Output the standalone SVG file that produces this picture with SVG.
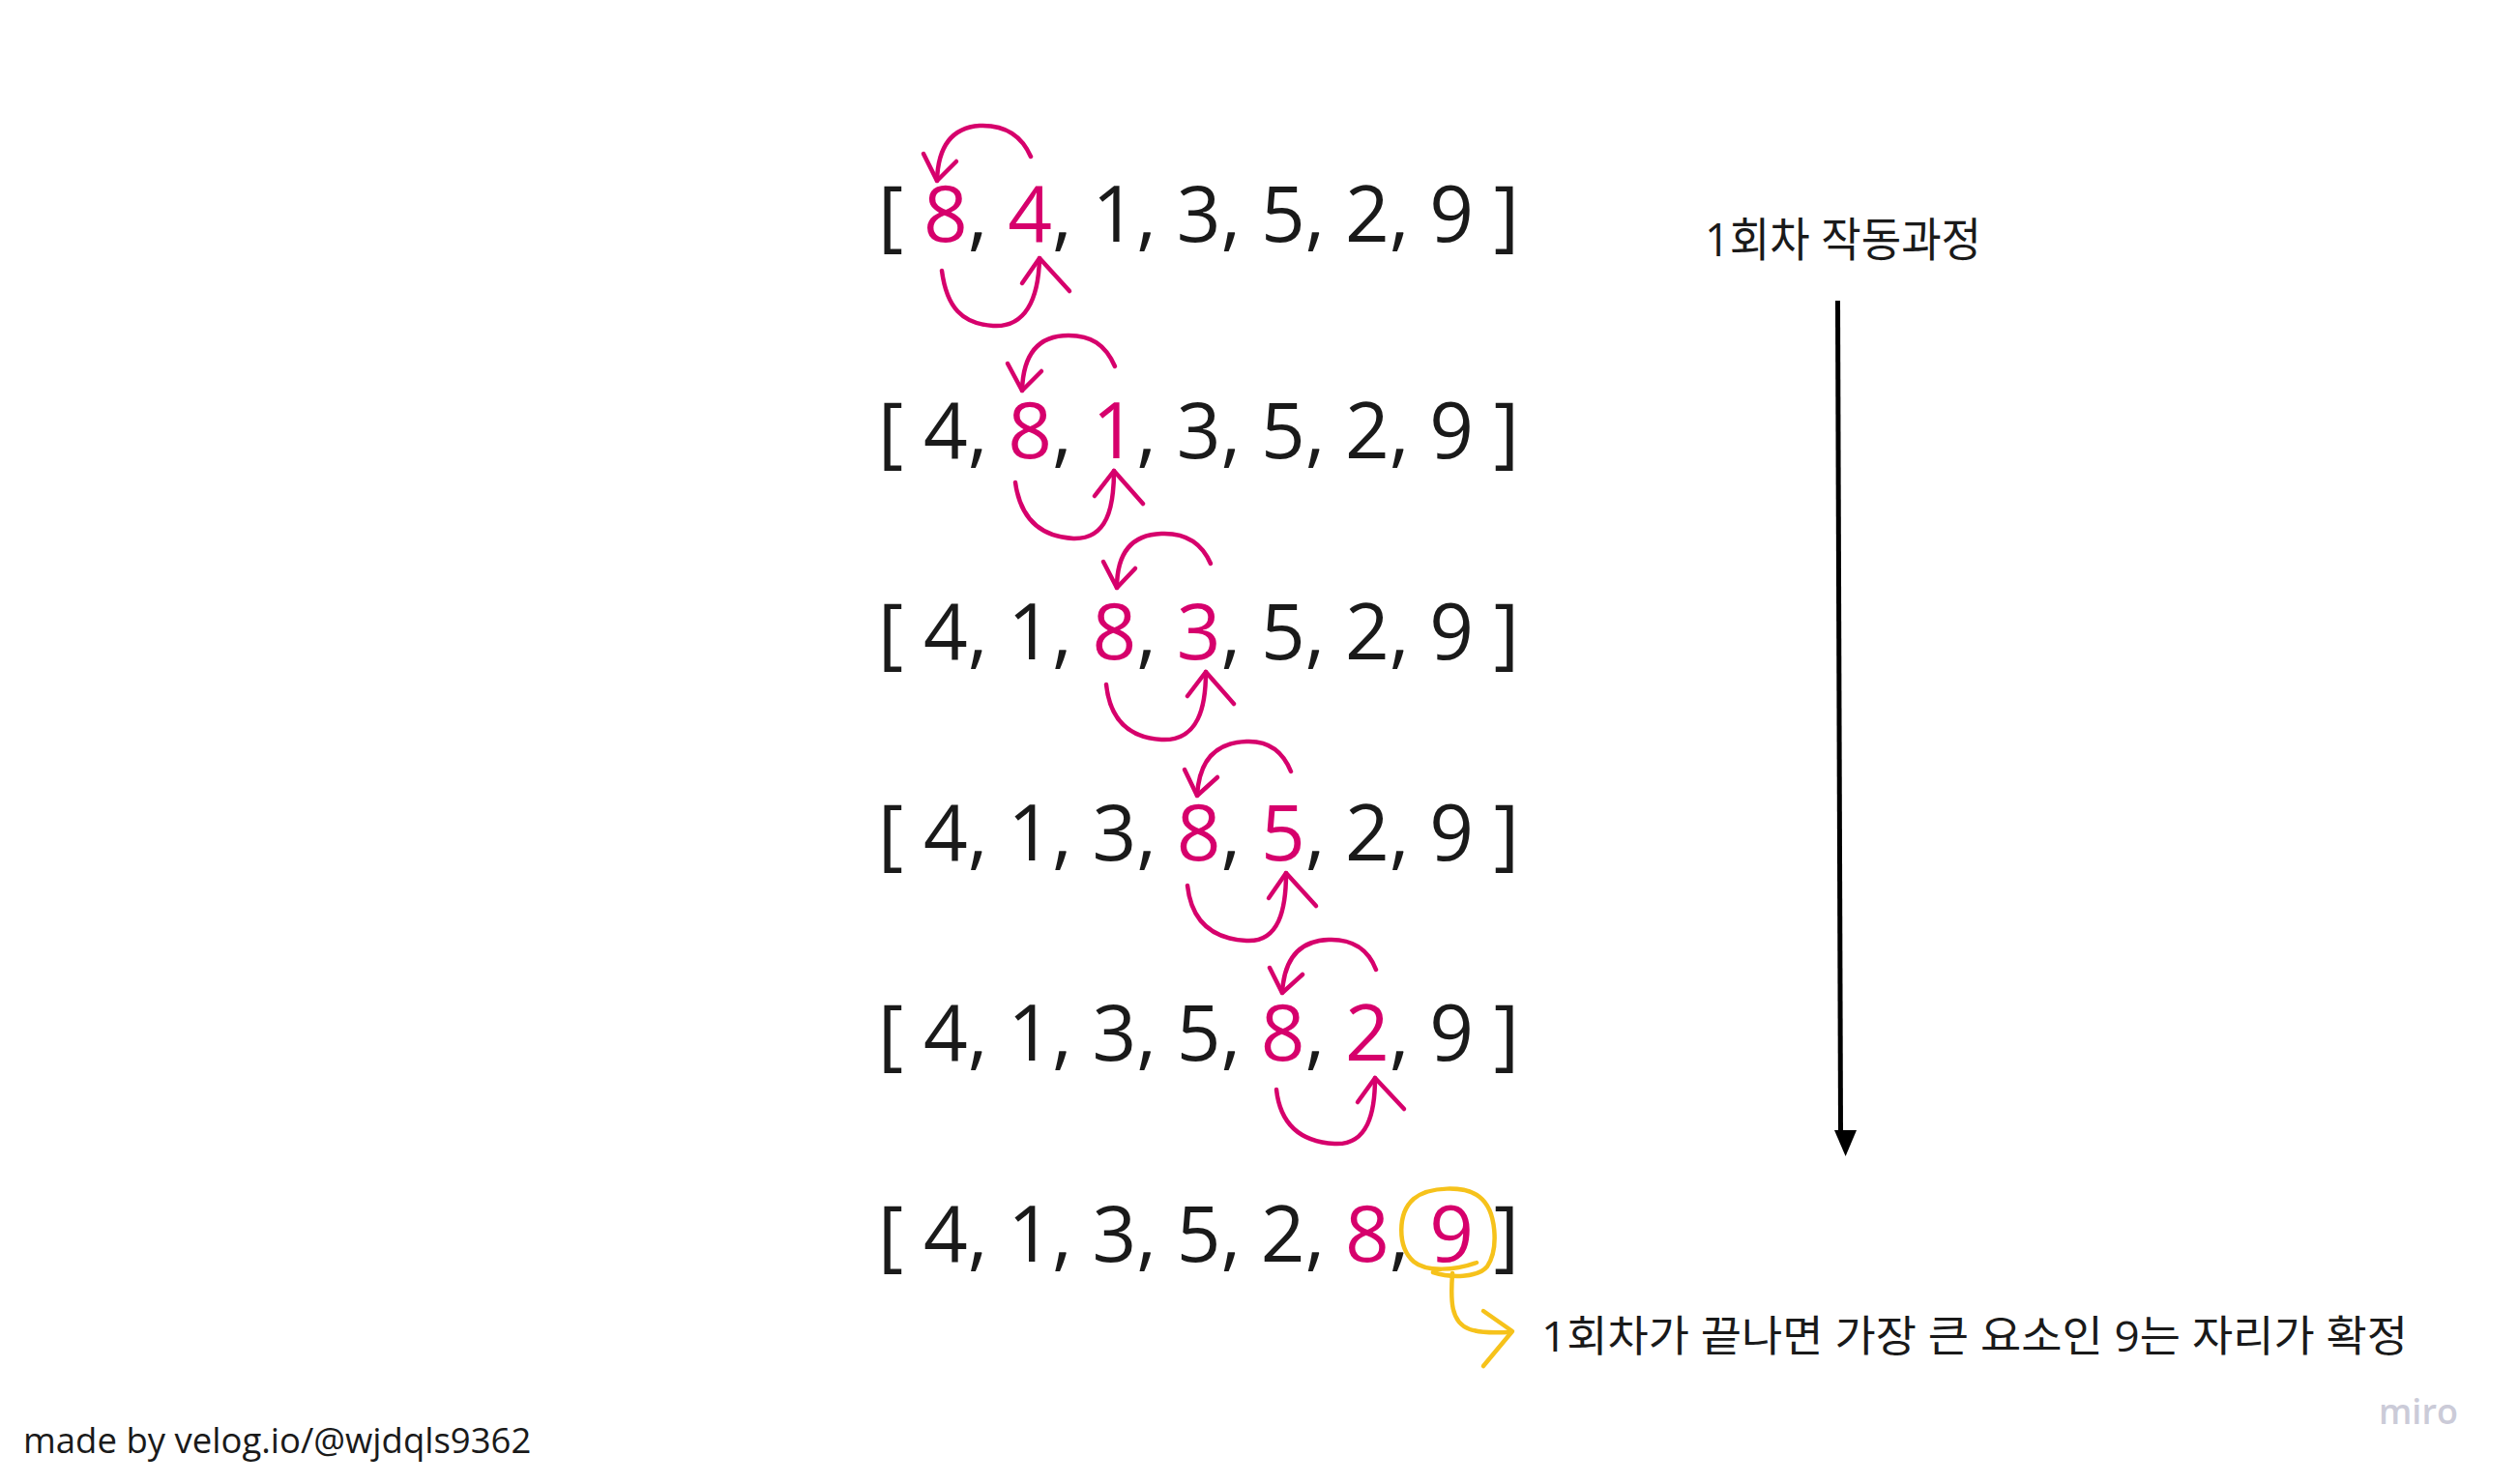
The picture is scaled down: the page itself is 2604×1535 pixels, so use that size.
<svg xmlns="http://www.w3.org/2000/svg" width="2604" height="1535" viewBox="0 0 2604 1535">
<style>
.row{font-family:"Open Sans","Noto Sans",sans-serif;font-size:80px;fill:#1a1a1a}
.p{fill:#d6006c}
.ko{font-family:"Open Sans","Noto Sans CJK KR",sans-serif;fill:#1a1a1a}
.pa{fill:none;stroke:#d6006c;stroke-width:4.5;stroke-linecap:round;stroke-linejoin:round}
.ya{fill:none;stroke:#f6c21b;stroke-width:4.5;stroke-linecap:round;stroke-linejoin:round}
</style>
<defs>
<marker id="ah" markerWidth="10" markerHeight="10" refX="0" refY="5" orient="auto" markerUnits="userSpaceOnUse" viewBox="0 0 10 10" overflow="visible">
<path d="M0,-11.5 L27,0 L0,11.5 Z" fill="#000"/>
</marker>
</defs>
<rect width="2604" height="1535" fill="#fff"/>
<g id="row1"><text class="row" x="908" y="250">[ <tspan class="p">8</tspan>, <tspan class="p">4</tspan>, 1, 3, 5, 2, 9 ]</text></g>
<g id="row2"><text class="row" x="908" y="474">[ 4, <tspan class="p">8</tspan>, <tspan class="p">1</tspan>, 3, 5, 2, 9 ]</text></g>
<g id="row3"><text class="row" x="908" y="682">[ 4, 1, <tspan class="p">8</tspan>, <tspan class="p">3</tspan>, 5, 2, 9 ]</text></g>
<g id="row4"><text class="row" x="908" y="890">[ 4, 1, 3, <tspan class="p">8</tspan>, <tspan class="p">5</tspan>, 2, 9 ]</text></g>
<g id="row5"><text class="row" x="908" y="1097">[ 4, 1, 3, 5, <tspan class="p">8</tspan>, <tspan class="p">2</tspan>, 9 ]</text></g>
<g id="row6"><text class="row" x="908" y="1305">[ 4, 1, 3, 5, 2, <tspan class="p">8</tspan>, <tspan class="p">9</tspan> ]</text></g>
<g id="title"><text class="ko" x="1763" y="265" font-size="48" textLength="286" lengthAdjust="spacingAndGlyphs">1회차 작동과정</text></g>
<g id="note"><text class="ko" x="1594" y="1398" font-size="44" textLength="896" lengthAdjust="spacingAndGlyphs">1회차가 끝나면 가장 큰 요소인 9는 자리가 확정</text></g>
<g id="credit"><text x="24" y="1503" font-family="'Open Sans','Noto Sans',sans-serif" font-size="36.5" fill="#1a1a1a">made by velog.io/@wjdqls9362</text></g>
<g id="logo"><text x="2460" y="1473" font-family="'Open Sans','Noto Sans',sans-serif" font-size="36" font-weight="600" fill="#cbcbd8">miro</text></g>
<g id="connectors">
<path d="M1900.5,311 L1903.5,1169" stroke="#000" stroke-width="5" fill="none" marker-end="url(#ah)"/>
<path class="pa" d="M1066,162 C1056,139 1038,129 1013,130 C985,132 970,150 969,187"/>
<path class="pa" d="M955,159 L969,187 L989,167"/>
<path class="pa" d="M974,280 C979,318 995,335 1027,337 C1060,339 1074,310 1075,267"/>
<path class="pa" d="M1057,293 L1075,267 L1106,301"/>
<path class="pa" d="M1153,379 C1143,356 1128,347 1105,347 C1075,347 1058,365 1057,404"/>
<path class="pa" d="M1042,376 L1057,404 L1077,384"/>
<path class="pa" d="M1050,499 C1055,535 1075,555 1110,557 C1145,558 1152,525 1152,487"/>
<path class="pa" d="M1132,513 L1152,487 L1182,521"/>
<path class="pa" d="M1252,583 C1243,562 1226,551 1201,552 C1172,553 1155,570 1155,608"/>
<path class="pa" d="M1141,581 L1155,608 L1174,588"/>
<path class="pa" d="M1144,708 C1148,745 1168,763 1201,765 C1240,767 1247,730 1247,695"/>
<path class="pa" d="M1228,720 L1247,695 L1276,728"/>
<path class="pa" d="M1335,798 C1327,778 1312,766 1289,767 C1258,768 1240,785 1238,823"/>
<path class="pa" d="M1225,796 L1238,823 L1259,804"/>
<path class="pa" d="M1228,916 C1232,952 1252,971 1289,973 C1323,975 1330,940 1330,903"/>
<path class="pa" d="M1312,929 L1330,903 L1361,937"/>
<path class="pa" d="M1423,1003 C1415,982 1398,971 1374,972 C1345,973 1328,990 1326,1027"/>
<path class="pa" d="M1313,1001 L1326,1027 L1347,1008"/>
<path class="pa" d="M1320,1127 C1324,1163 1345,1181 1380,1183 C1415,1185 1422,1150 1422,1115"/>
<path class="pa" d="M1404,1140 L1422,1115 L1452,1147"/>
<path class="ya" d="M1527,1306 C1505,1314 1475,1316 1462,1305 C1445,1290 1445,1255 1462,1240 C1478,1227 1515,1226 1530,1238 C1548,1252 1550,1292 1538,1310 C1528,1322 1500,1322 1482,1316"/>
<path class="ya" d="M1502,1317 C1500,1345 1500,1368 1520,1375 C1535,1380 1550,1378 1560,1378"/>
<path class="ya" d="M1534,1356 L1564,1377 L1534,1413"/>
</g>
</svg>
